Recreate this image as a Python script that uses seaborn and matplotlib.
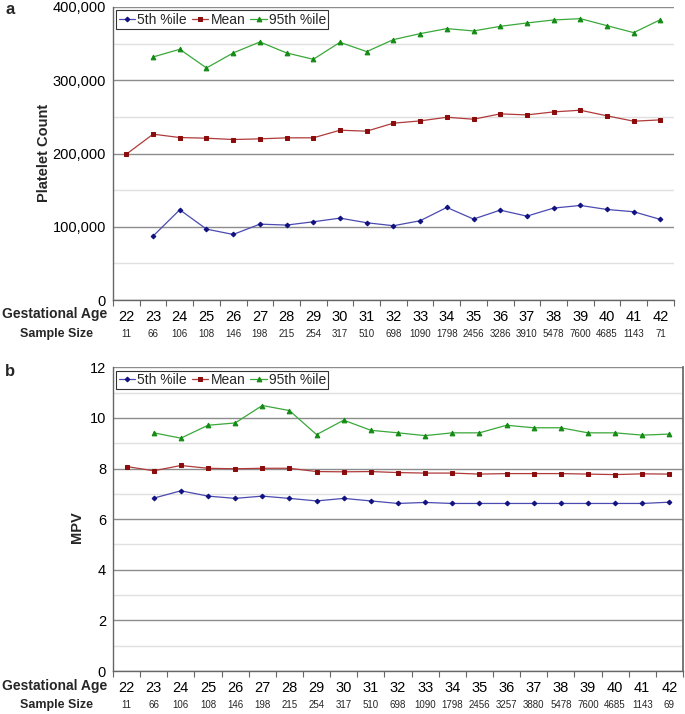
import numpy as np
import pandas as pd
import matplotlib.pyplot as plt
import seaborn as sns
from matplotlib.ticker import MultipleLocator, FuncFormatter

sns.set_theme(style="white")
plt.rcParams['font.family'] = ['Liberation Sans', 'DejaVu Sans']

# ---- data ----
ages = list(range(22, 43))

plt_p5 = [np.nan, 87300, 123200, 96800, 89500, 103600, 102300, 106800, 111800, 105500, 101400,
          108200, 126400, 110500, 122700, 114500, 125500, 129100, 123600, 120500, 110000]
plt_mean = [199100, 226400, 221800, 220900, 219100, 220000, 221400, 221400, 231800, 230500, 241400,
            244500, 249500, 246800, 254100, 252700, 256800, 259100, 251400, 244100, 245900]
plt_p95 = [np.nan, 331800, 342300, 316800, 337300, 352300, 337300, 328600, 351800, 339100, 355500,
           363600, 370500, 367300, 373600, 378200, 382300, 384100, 374500, 365000, 382700]
plt_n = [11, 66, 106, 108, 146, 198, 215, 254, 317, 510, 698, 1090, 1798, 2456, 3286, 3910,
         5478, 7600, 4685, 1143, 71]

mpv_p5 = [np.nan, 6.83, 7.12, 6.91, 6.82, 6.91, 6.82, 6.72, 6.82, 6.72, 6.62,
          6.66, 6.62, 6.62, 6.62, 6.62, 6.62, 6.62, 6.62, 6.62, 6.67]
mpv_mean = [8.08, 7.91, 8.12, 8.01, 7.99, 8.01, 8.01, 7.88, 7.87, 7.88, 7.84,
            7.82, 7.82, 7.78, 7.80, 7.80, 7.80, 7.78, 7.76, 7.79, 7.78]
mpv_p95 = [np.nan, 9.41, 9.20, 9.71, 9.80, 10.49, 10.29, 9.34, 9.91, 9.51, 9.41,
           9.30, 9.41, 9.41, 9.71, 9.61, 9.61, 9.41, 9.41, 9.32, 9.36]
mpv_n = [11, 66, 106, 108, 146, 198, 215, 254, 317, 510, 698, 1090, 1798, 2456, 3257, 3880,
         5478, 7600, 4685, 1143, 69]

series_names = ["5th %ile", "Mean", "95th %ile"]
line_colors = ["#4a4ab0", "#b03a3a", "#3aa83a"]
mark_colors = ["#101080", "#8a0c0c", "#138a13"]
markers = ["D", "s", "^"]
msizes = [2.4, 3.2, 3.4]

fig = plt.figure(figsize=(6.85, 7.14), dpi=100)
ax_a = fig.add_axes([0.165, 0.5798, 0.8186, 0.4104])
ax_b = fig.add_axes([0.165, 0.0602, 0.832, 0.4254])


def draw_panel(ax, p5, mean, p95, ymax, major, minor, fmt, right_spine):
    x = np.arange(len(ages))
    for vals, name, lc, mc, mk, ms in zip([p5, mean, p95], series_names, line_colors,
                                          mark_colors, markers, msizes):
        df = pd.DataFrame({"x": x, "y": vals}).dropna()
        sns.lineplot(data=df, x="x", y="y", ax=ax, color=lc, lw=0.9, marker=mk,
                     markersize=ms, markerfacecolor=mc, markeredgecolor=mc, label=name)
    ax.set_xlim(-0.5, len(ages) - 0.5)
    ax.set_ylim(0, ymax)
    ax.yaxis.set_major_locator(MultipleLocator(major))
    ax.yaxis.set_minor_locator(MultipleLocator(minor))
    ax.yaxis.set_major_formatter(FuncFormatter(fmt))
    ax.grid(which="major", axis="y", color="#8c8c8c", lw=1.0)
    ax.grid(which="minor", axis="y", color="#e0e0e0", lw=1.0)
    ax.set_axisbelow(True)
    ax.set_xticks(x)
    ax.set_xticklabels([str(a) for a in ages], fontsize=10.5)
    ax.set_xticks(np.arange(-0.5, len(ages)), minor=True)
    ax.tick_params(axis="x", which="major", length=0, pad=7, colors="black")
    ax.tick_params(axis="x", which="minor", length=4, width=0.8, color="#666666",
                   direction="out", bottom=True)
    ax.tick_params(axis="y", which="both", length=0, pad=5, labelsize=10.5, colors="black")
    for s in ["left", "bottom"]:
        ax.spines[s].set_color("#666666")
        ax.spines[s].set_linewidth(1.0)
    ax.spines["top"].set_visible(False)
    ax.spines["right"].set_visible(right_spine)
    ax.spines["right"].set_color("#666666")
    ax.set_xlabel("")
    ax.set_ylabel("")
    leg = ax.legend(loc="upper left", ncol=3, fontsize=10, frameon=True, fancybox=False,
                    borderaxespad=0.25, borderpad=0.15, handlelength=1.2, handletextpad=0.15,
                    columnspacing=0.35)
    leg.get_frame().set_edgecolor("black")
    leg.get_frame().set_linewidth(0.8)


draw_panel(ax_a, plt_p5, plt_mean, plt_p95, 400000, 100000, 50000,
           lambda v, p: f"{int(v):,}", False)
draw_panel(ax_b, mpv_p5, mpv_mean, mpv_p95, 12, 2, 1,
           lambda v, p: f"{int(v)}", True)

# sample size row under each panel
for ax, ns in [(ax_a, plt_n), (ax_b, mpv_n)]:
    for i, n in enumerate(ns):
        ax.annotate(str(n), xy=(i, 0), xycoords=("data", "axes fraction"),
                    xytext=(0, -24.5), textcoords="offset points",
                    ha="center", va="center", fontsize=7)

# row labels and axis titles
fig.text(55 / 685, 1 - 314 / 714, "Gestational Age", ha="center", va="center",
         fontsize=10, fontweight="bold")
fig.text(57 / 685, 1 - 334 / 714, "Sample Size", ha="center", va="center",
         fontsize=9, fontweight="bold")
fig.text(55 / 685, 1 - 686 / 714, "Gestational Age", ha="center", va="center",
         fontsize=10, fontweight="bold")
fig.text(57 / 685, 1 - 705 / 714, "Sample Size", ha="center", va="center",
         fontsize=9, fontweight="bold")

fig.text(44 / 685, 1 - 153 / 714, "Platelet Count", rotation=90, ha="center", va="center",
         fontsize=10.5, fontweight="bold")
fig.text(77 / 685, 1 - 527 / 714, "MPV", rotation=90, ha="center", va="center",
         fontsize=10.5, fontweight="bold")

fig.text(5 / 685, 1 - 10 / 714, "a", ha="left", va="center", fontsize=12, fontweight="bold")
fig.text(5 / 685, 1 - 371 / 714, "b", ha="left", va="center", fontsize=12, fontweight="bold")

fig.savefig("out.png", dpi=100)
